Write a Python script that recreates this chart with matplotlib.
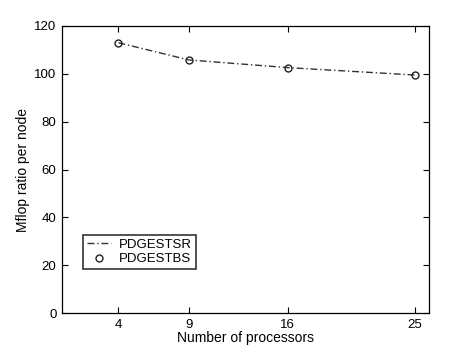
import matplotlib
matplotlib.use("Agg")
import matplotlib.pyplot as plt

plt.rcParams['font.family'] = ['Liberation Sans', 'DejaVu Sans']

processors = [4, 9, 16, 25]
tsr_mflops = [113.0, 105.8, 102.6, 99.5]
tbs_mflops = [113.0, 105.8, 102.6, 99.5]
x_ticks = [4, 9, 16, 25]
y_ticks = [0, 20, 40, 60, 80, 100, 120]

fig = plt.figure(figsize=(4.74, 3.53), dpi=100)
ax = fig.add_axes([62 / 474, 1 - 313 / 353, (429 - 62) / 474, (313 - 26) / 353])

ax.plot(processors, tsr_mflops, color='#333333', linestyle='-.', linewidth=1.0,
        dashes=(5, 2, 1, 2), label='PDGESTSR')
ax.plot(processors, tbs_mflops, linestyle='None', marker='o', markersize=5,
        markerfacecolor='none', markeredgecolor='#222222', markeredgewidth=1.0,
        label='PDGESTBS')

ax.set_xlim(0, 26)
ax.set_ylim(0, 120)
ax.set_xticks(x_ticks)
ax.set_yticks(y_ticks)
ax.tick_params(direction='in', top=True, right=True, labelsize=9.5, length=4, pad=4)
ax.set_xlabel('Number of processors', fontsize=10, labelpad=0)
ax.set_ylabel('Mflop ratio per node', fontsize=10, labelpad=3)
for s in ax.spines.values():
    s.set_linewidth(0.9)

leg = ax.legend(loc='lower left', bbox_to_anchor=(0.057, 0.153), borderaxespad=0,
                fontsize=9.5, frameon=True, fancybox=False, edgecolor='black',
                handlelength=1.8, handletextpad=0.6, borderpad=0.3, labelspacing=0.15)
leg.get_frame().set_linewidth(1.2)

fig.savefig('out.png', dpi=100)
